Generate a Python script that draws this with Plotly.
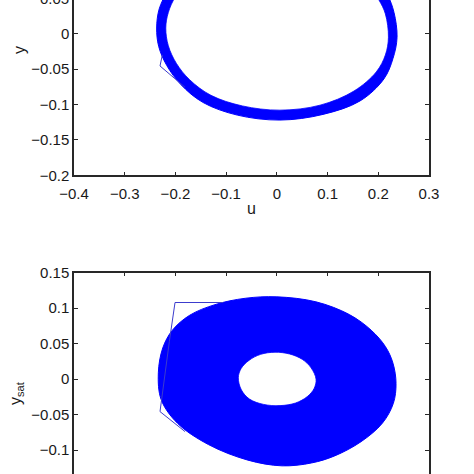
import plotly.graph_objects as go
from plotly.subplots import make_subplots

# top panel: band of limit-cycle loops, y vs u (boundaries)
top_outer_u = [0.237, 0.231, 0.218, 0.195, 0.150, 0.080, 0.000, -0.080, -0.140, -0.185, -0.215,
               -0.232, -0.237, -0.233, -0.217, -0.189, -0.146, -0.078, 0.006, 0.091, 0.164,
               0.211, 0.229]
top_outer_y = [-0.005, 0.030, 0.055, 0.078, 0.100, 0.114, 0.119, 0.116, 0.104, 0.085, 0.060,
               0.035, 0.008, -0.018, -0.045, -0.072, -0.097, -0.115, -0.122, -0.114, -0.095,
               -0.064, -0.035]
top_inner_u = [0.220, 0.214, 0.201, 0.180, 0.136, 0.070, 0.000, -0.070, -0.128, -0.170, -0.200,
               -0.214, -0.219, -0.214, -0.198, -0.172, -0.130, -0.068, 0.006, 0.085, 0.152,
               0.196, 0.214]
top_inner_y = [-0.005, 0.028, 0.048, 0.070, 0.091, 0.104, 0.108, 0.105, 0.094, 0.076, 0.052,
               0.030, 0.008, -0.017, -0.042, -0.065, -0.087, -0.102, -0.108, -0.101, -0.081,
               -0.054, -0.030]
top_start_u = [-0.2258, -0.2304, -0.181]
top_start_y = [-0.030, -0.0456, -0.0757]

# bottom panel: y_sat vs u, filled annulus
bot_outer_u = [0.235, 0.229, 0.214, 0.186, 0.143, 0.077, 0.000, -0.062, -0.122, -0.172, -0.206,
               -0.225, -0.2337, -0.228, -0.196, -0.135, -0.057, 0.010, 0.068, 0.114, 0.166,
               0.208, 0.2297]
bot_outer_y = [-0.006, 0.0225, 0.046, 0.069, 0.091, 0.109, 0.116, 0.114, 0.105, 0.090, 0.069,
               0.044, 0.009, -0.029, -0.062, -0.092, -0.114, -0.122, -0.118, -0.108, -0.088,
               -0.062, -0.034]
bot_hole_u = [0.0773, 0.0675, 0.050, 0.025, -0.0036, -0.032, -0.055, -0.0705, -0.076, -0.0700,
              -0.054, -0.026, 0.0063, 0.037, 0.060, 0.0735]
bot_hole_y = [0.000, 0.0160, 0.0280, 0.0355, 0.038, 0.035, 0.0265, 0.0150, 0.0020, -0.0150,
              -0.0280, -0.0355, -0.0372, -0.0335, -0.0245, -0.0130]
bot_start_u = [-0.106, -0.2008, -0.212, -0.2304, -0.181]
bot_start_y = [0.108, 0.108, 0.053, -0.0456, -0.0738]

x_ticks = [-0.4, -0.3, -0.2, -0.1, 0, 0.1, 0.2, 0.3]
x_labels = ['\u22120.4', '\u22120.3', '\u22120.2', '\u22120.1', '0', '0.1', '0.2', '0.3']
top_y_ticks = [-0.2, -0.15, -0.1, -0.05, 0]
top_y_labels = ['\u22120.2', '\u22120.15', '\u22120.1', '\u22120.05', '0']
bot_y_ticks = [-0.1, -0.05, 0, 0.05, 0.1, 0.15]
bot_y_labels = ['\u22120.1', '\u22120.05', '0', '0.05', '0.1', '0.15']

BLUE = 'rgb(0,0,255)'
THIN = 'rgb(60,60,205)'
AX = 'rgb(40,40,40)'
TXT = 'rgb(25,25,25)'
FONT = 'Liberation Sans, Arial, sans-serif'
FS = 15


def closed(a):
    return list(a) + [a[0]]


fig = make_subplots(rows=2, cols=1)

fig.add_trace(go.Scatter(x=closed(top_outer_u), y=closed(top_outer_y), mode='lines',
                         line=dict(color=BLUE, width=1, shape='spline', smoothing=1.0),
                         fill='toself', fillcolor=BLUE, hoverinfo='skip'), row=1, col=1)
fig.add_trace(go.Scatter(x=closed(top_inner_u), y=closed(top_inner_y), mode='lines',
                         line=dict(color=BLUE, width=0.8, shape='spline', smoothing=1.0),
                         fill='toself', fillcolor='white', hoverinfo='skip'), row=1, col=1)
fig.add_trace(go.Scatter(x=top_start_u, y=top_start_y, mode='lines',
                         line=dict(color=THIN, width=1), hoverinfo='skip'), row=1, col=1)

fig.add_trace(go.Scatter(x=closed(bot_outer_u), y=closed(bot_outer_y), mode='lines',
                         line=dict(color=BLUE, width=1, shape='spline', smoothing=1.0),
                         fill='toself', fillcolor=BLUE, hoverinfo='skip'), row=2, col=1)
fig.add_trace(go.Scatter(x=closed(bot_hole_u), y=closed(bot_hole_y), mode='lines',
                         line=dict(color=BLUE, width=0.8, shape='spline', smoothing=1.0),
                         fill='toself', fillcolor='white', hoverinfo='skip'), row=2, col=1)
fig.add_trace(go.Scatter(x=bot_start_u, y=bot_start_y, mode='lines',
                         line=dict(color=THIN, width=1), hoverinfo='skip'), row=2, col=1)

axis_common = dict(showgrid=False, zeroline=False, showline=True, linecolor=AX, linewidth=1.5,
                   ticks='inside', ticklen=4, tickwidth=1, tickcolor=AX,
                   tickfont=dict(family=FONT, size=FS, color=TXT))

fig.update_xaxes(range=[-0.4, 0.3], tickvals=x_ticks, ticktext=x_labels, **axis_common)
fig.update_xaxes(domain=[0, 1], mirror=False, side='bottom', ticklabelstandoff=4, row=1, col=1)
fig.update_xaxes(domain=[0, 1], mirror=False, side='top', showticklabels=False, row=2, col=1)

fig.update_yaxes(mirror='ticks', **axis_common)
fig.update_yaxes(domain=[0.6302, 1], range=[-0.2, 0.0476], tickvals=top_y_ticks,
                 ticktext=top_y_labels, row=1, col=1)
fig.update_yaxes(domain=[0, 0.4247], range=[-0.1335, 0.15], tickvals=bot_y_ticks,
                 ticktext=bot_y_labels, row=2, col=1)

fig.update_layout(
    width=474, height=474, showlegend=False,
    margin=dict(l=74, r=45, t=0, b=0, autoexpand=False),
    paper_bgcolor='white', plot_bgcolor='white',
    font=dict(family=FONT, size=FS, color=TXT),
    annotations=[
        # tick label of 0.05 sitting just past the top edge of the page
        dict(text='0.05', xref='paper', yref='paper', x=0, y=1.0036, xanchor='right',
             yanchor='middle', xshift=-3, showarrow=False, font=dict(size=FS, color=TXT)),
        dict(text='u', xref='paper', yref='paper', x=0.5, y=(474 - 208) / 474, xanchor='center',
             yanchor='middle', showarrow=False, font=dict(size=FS + 1, color=TXT)),
        dict(text='y', xref='paper', yref='paper', x=(19 - 74) / 355, y=(474 - 50) / 474,
             xanchor='center', yanchor='middle', textangle=-90, showarrow=False,
             font=dict(size=FS + 1, color=TXT)),
        dict(text='y<sub>sat</sub>', xref='paper', yref='paper', x=(16 - 74) / 355,
             y=(474 - 393) / 474, xanchor='center', yanchor='middle', textangle=-90,
             showarrow=False, font=dict(size=FS + 1, color=TXT)),
    ],
)

# the page body has a default 8px margin; drop it so the figure sits at the window corner
fig.write_html("out.html", config={'displayModeBar': False},
               post_script="document.body.style.margin='0px';")
